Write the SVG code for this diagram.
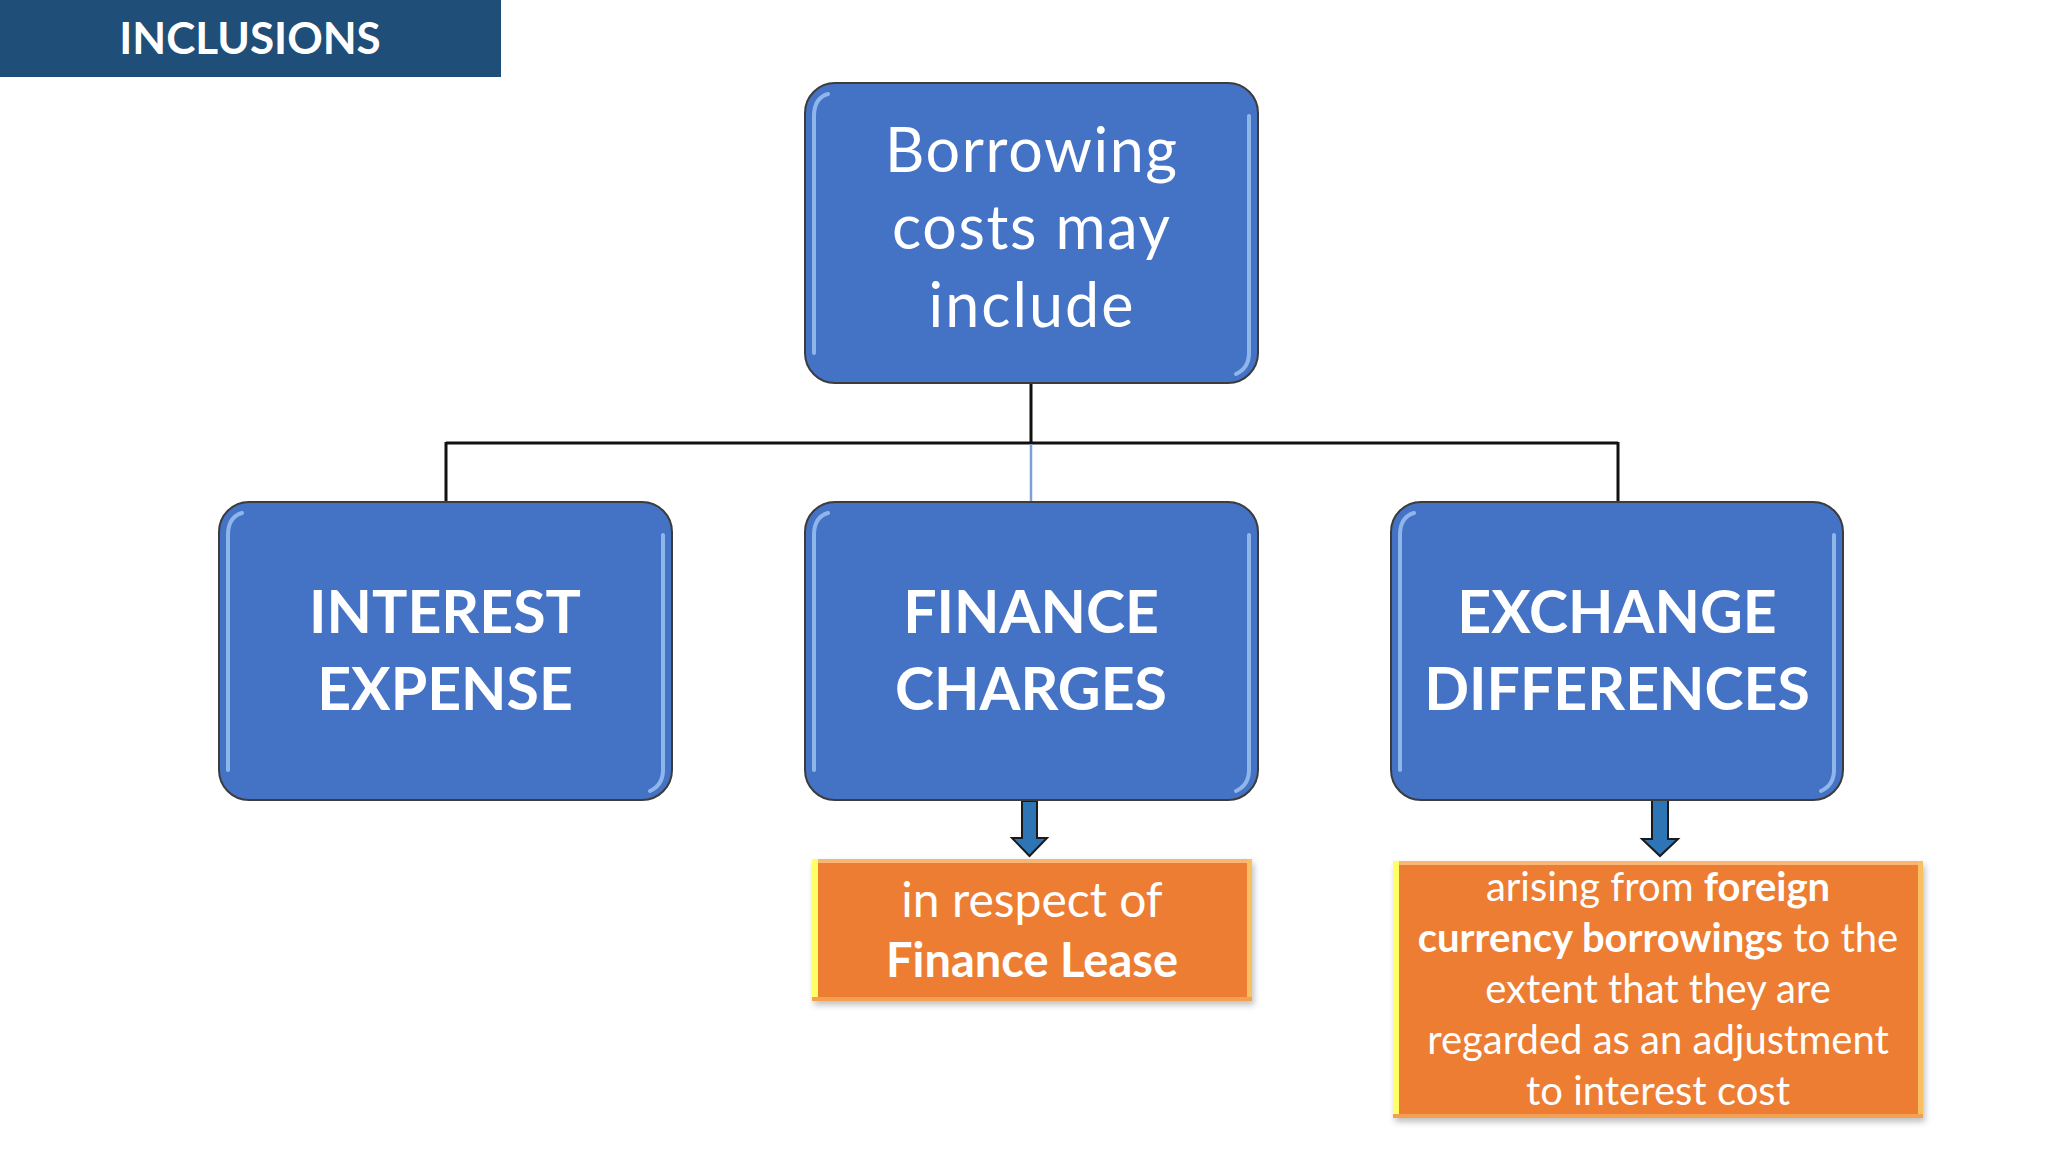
<svg xmlns="http://www.w3.org/2000/svg" width="2048" height="1152" viewBox="0 0 2048 1152">
<defs>
<style>
.box{fill:#4472C4;stroke:#3c3c3c;stroke-width:2}
.hl{fill:none;stroke:#9cc2f2;stroke-width:4;stroke-linecap:round;opacity:0.85}
.t{font-family:Lato,"Open Sans","Liberation Sans",sans-serif;fill:#ffffff;text-anchor:middle}
.b{font-weight:bold}
.orange{fill:#ED7D31}
.arrow{fill:#2E75B6;stroke:#1a1a1a;stroke-width:2;stroke-linejoin:miter}
.conn{fill:none;stroke:#111111;stroke-width:3}
</style>
<filter id="sh" x="-5%" y="-5%" width="110%" height="120%">
<feDropShadow dx="2" dy="4" stdDeviation="3" flood-color="#000" flood-opacity="0.25"/>
</filter>
</defs>
<rect width="2048" height="1152" fill="#ffffff"/>

<g id="header">
<rect x="0" y="0" width="501" height="77" fill="#1F4E79"/>
<text class="t b" x="250" y="54" font-size="44">INCLUSIONS</text>
</g>

<g id="connectors">
<path class="conn" d="M1031,383 V443 M446,443 H1618 M446,442 V501 M1618,442 V501"/>
<line x1="1031" y1="444" x2="1031" y2="502" stroke="#7f9fd6" stroke-width="2.5"/>
<polygon class="arrow" points="1022,801 1037,801 1037,838 1047,838 1029.5,856 1012,838 1022,838"/>
<polygon class="arrow" points="1652,799 1668,799 1668,839 1678,839 1660,856 1642,839 1652,839"/>
</g>

<g id="node-top">
<rect class="box" x="805" y="83" width="453" height="300" rx="30"/>
<path class="hl" d="M814,353 V116 Q814,98 828,94"/>
<path class="hl" d="M1249,116 V353 Q1249,368 1236,374"/>
<text class="t" x="1031" y="172" font-size="61" textLength="292">Borrowing</text>
<text class="t" x="1031" y="249" font-size="61" textLength="278">costs may</text>
<text class="t" x="1031" y="327" font-size="61" textLength="205">include</text>
</g>

<g id="node-interest">
<rect class="box" x="219" y="502" width="453" height="298" rx="30"/>
<path class="hl" d="M228,770 V535 Q228,517 242,513"/>
<path class="hl" d="M663,535 V770 Q663,785 650,791"/>
<text class="t b" x="445" y="633" font-size="59">INTEREST</text>
<text class="t b" x="445" y="710" font-size="59">EXPENSE</text>
</g>

<g id="node-finance">
<rect class="box" x="805" y="502" width="453" height="298" rx="30"/>
<path class="hl" d="M814,770 V535 Q814,517 828,513"/>
<path class="hl" d="M1249,535 V770 Q1249,785 1236,791"/>
<text class="t b" x="1031" y="633" font-size="59">FINANCE</text>
<text class="t b" x="1031" y="710" font-size="59">CHARGES</text>
</g>

<g id="node-exchange">
<rect class="box" x="1391" y="502" width="452" height="298" rx="30"/>
<path class="hl" d="M1400,770 V535 Q1400,517 1414,513"/>
<path class="hl" d="M1834,535 V770 Q1834,785 1821,791"/>
<text class="t b" x="1617" y="633" font-size="59">EXCHANGE</text>
<text class="t b" x="1617" y="710" font-size="59">DIFFERENCES</text>
</g>

<g id="node-lease">
<rect class="orange" x="812" y="859" width="440" height="142" filter="url(#sh)"/>
<rect x="812" y="859" width="440" height="4" fill="#F9B574"/>
<rect x="812" y="859" width="6" height="142" fill="#FFFF66"/>
<rect x="1247" y="859" width="5" height="142" fill="#F8C060"/>
<rect x="812" y="997" width="440" height="4" fill="#F5A050"/>
<text class="t" x="1032" y="917" font-size="48">in respect of</text>
<text class="t b" x="1032" y="977" font-size="47">Finance Lease</text>
</g>

<g id="node-foreign">
<rect class="orange" x="1393" y="861" width="530" height="257" filter="url(#sh)"/>
<rect x="1393" y="861" width="530" height="4" fill="#F9B574"/>
<rect x="1393" y="861" width="6" height="257" fill="#FFFF66"/>
<rect x="1918" y="861" width="5" height="257" fill="#F8C060"/>
<rect x="1393" y="1114" width="530" height="4" fill="#F5A050"/>
<text class="t" x="1658" y="901" font-size="40">arising from <tspan class="b">foreign</tspan></text>
<text class="t" x="1658" y="952" font-size="40"><tspan class="b">currency borrowings</tspan> to the</text>
<text class="t" x="1658" y="1003" font-size="40">extent that they are</text>
<text class="t" x="1658" y="1054" font-size="40">regarded as an adjustment</text>
<text class="t" x="1658" y="1105" font-size="40">to interest cost</text>
</g>
</svg>
